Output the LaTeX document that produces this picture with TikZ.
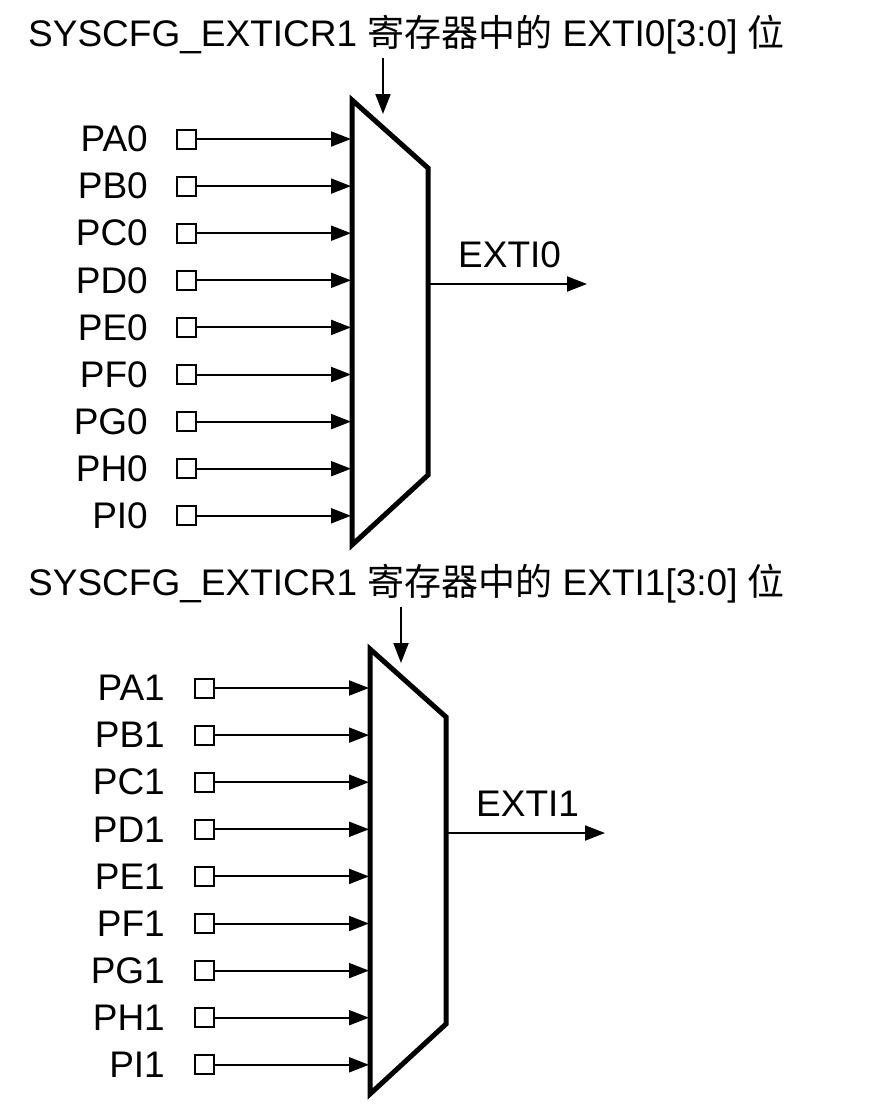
\documentclass[tikz,border=0pt]{standalone}
\usepackage{fontspec}
\setmainfont{Liberation Sans}
\newfontfamily\cjk{Noto Sans CJK SC}
\usetikzlibrary{arrows.meta}
\begin{document}
\begin{tikzpicture}[x=1pt,y=-1pt,
  lbl/.style={font=\fontsize{37}{42}\selectfont,inner sep=0pt},
  pin/.style={draw,line width=2pt,minimum size=19pt,inner sep=0pt},
  arr/.style={line width=2pt,-{Triangle[length=20pt,width=15pt]}},
  mux/.style={line width=5pt,line join=miter}]
\useasboundingbox (0,0) rectangle (890,1120);
\foreach \blk/\dx/\dy/\lx/\n in {0/0/0/148/0,1/18/549/165/1}{
  \begin{scope}[shift={(\dx,\dy)}]
  \node[lbl,anchor=west] (t\blk) at (28-\dx,35) {SYSCFG\_EXTICR1 {\cjk 寄存器中的} EXTI\n[3:0] {\cjk 位}};
  \draw[mux] (352,100) -- (428,168) -- (428,475) -- (352,545) -- cycle;
  \coordinate (s\blk a) at (383,58);
  \coordinate (s\blk b) at (383,114);
  \draw[arr] (s\blk a) -- (s\blk b);
  \coordinate (o\blk a) at (430,284);
  \coordinate (o\blk b) at (587,284);
  \draw[arr] (o\blk a) -- (o\blk b);
  \node[lbl,anchor=south west] (e\blk) at (458,268) {EXTI\n};
  \foreach \p [count=\i from 0] in {A,B,C,D,E,F,G,H,I}{
    \node[pin] (q\blk\i) at (186,139+47.1*\i) {};
    \node[lbl,anchor=east] (l\blk\i) at (\lx-\dx,139+47.1*\i) {P\p\n};
    \coordinate (d\blk\i) at (351,139+47.1*\i);
    \draw[arr] (q\blk\i.east) -- (d\blk\i);
  }
  \end{scope}}
\end{tikzpicture}
\end{document}
